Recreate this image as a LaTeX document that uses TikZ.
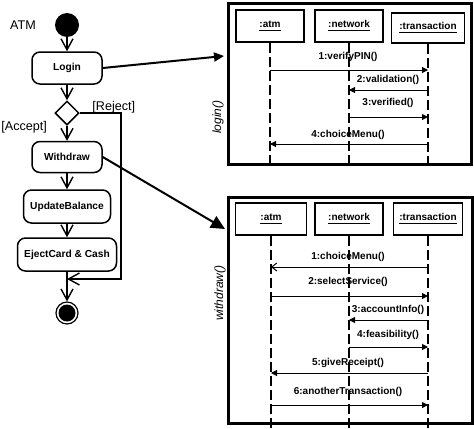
\documentclass[tikz,border=0pt]{standalone}
\usepackage{fontspec}
\setmainfont{Liberation Sans}
\usetikzlibrary{arrows.meta,shapes.geometric}
\begin{document}
\begin{tikzpicture}[x=0.5pt,y=-0.5pt,
 act/.style={draw,line width=0.75pt,rounded corners=4pt,font=\fontsize{5.1}{6}\selectfont\bfseries,inner sep=0pt},
 flow/.style={line width=0.7pt,-{Straight Barb[length=5.5pt,width=6pt,line width=0.7pt]}},
 lbl/.style={font=\fontsize{6.3}{7.5}\selectfont,inner sep=0pt},
 frm/.style={draw,line width=1.5pt,inner sep=0pt},
 obj/.style={draw,line width=0.8pt,inner sep=0pt,font=\fontsize{5}{6}\selectfont\bfseries},
 life/.style={line width=0.8pt,dash pattern=on 5pt off 2pt},
 msg/.style={line width=0.5pt,-{Triangle[length=3pt,width=3pt]}},
 msgopen/.style={line width=0.5pt,-{Straight Barb[length=2.5pt,width=4pt,line width=0.5pt]}},
 mlbl/.style={font=\fontsize{5}{6}\selectfont\bfseries,inner sep=0pt},
 call/.style={line width=1pt,-{Triangle[length=5pt,width=4.5pt]}},
 bigcall/.style={line width=1pt,-{Triangle[length=7pt,width=6.5pt]}},
 rot/.style={rotate=90,font=\fontsize{6}{7}\selectfont\itshape,inner sep=0pt}
]
\useasboundingbox (0,0) rectangle (474,428);

% ---------- activity diagram ----------
\node[lbl] (atmlbl) at (23,25) {ATM};
\node[circle,fill=black,inner sep=0pt,minimum size=12pt] (start) at (67,25) {};
\node[act,minimum width=35pt,minimum height=16pt] (login) at (67,68) {Login};
\node[diamond,draw,line width=0.75pt,inner sep=0pt,minimum width=12pt,minimum height=12pt] (dia) at (67,113) {};
\node[lbl,anchor=west] (rej) at (92,107) {[Reject]};
\node[lbl,anchor=west] (acc) at (1,127) {[Accept]};
\node[act,minimum width=35pt,minimum height=15.5pt] (withdraw) at (67,157) {Withdraw};
\node[act,minimum width=43.5pt,minimum height=16.5pt] (update) at (67,206.5) {UpdateBalance};
\node[act,minimum width=49.5pt,minimum height=16.5pt] (eject) at (67,254.5) {EjectCard \& Cash};
\coordinate (merge) at (67,279);
\coordinate (rejA) at (121,113);
\coordinate (rejB) at (121,279);
\node[circle,draw,line width=0.6pt,inner sep=0pt,minimum size=11pt] (end) at (67,313) {};
\node[circle,fill=black,inner sep=0pt,minimum size=8.5pt] (endin) at (67,313) {};

\draw[flow] (start) -- (login);
\draw[flow] (login) -- (dia);
\draw[flow] (dia) -- (withdraw);
\draw[flow] (withdraw) -- (update);
\draw[flow] (update) -- (eject);
\draw[flow] (eject) -- (end);
\draw[flow] (dia.east) -- (rejA) -- (rejB) -- (merge);

% ---------- frame 1: login() ----------
\node[frm,minimum width=121.5pt,minimum height=80.5pt] (f1) at (349.5,83.5) {};
\node[rot] (f1lbl) at (218,117) {login()};
\coordinate (f1in) at (224,56);
\draw[call] (login.east) -- (f1in);

\node[obj,minimum width=34pt,minimum height=16pt] (a1) at (270,26) {\underline{:atm}};
\node[obj,minimum width=34pt,minimum height=16pt] (n1) at (349,26) {\underline{:network}};
\node[obj,minimum width=36.5pt,minimum height=15pt] (t1) at (428,28) {\underline{:transaction}};
\coordinate (a1e) at (270,168);
\coordinate (n1e) at (349,168);
\coordinate (t1e) at (428,168);
\draw[life] (a1.south) -- (a1e);
\draw[life] (n1.south) -- (n1e);
\draw[life] (t1.south) -- (t1e);

\node[mlbl] (m11) at (348,57) {1:verifyPIN()};
\draw[msg] (a1 |- 0,70) -- (t1 |- 0,70);
\node[mlbl] (m12) at (388,80) {2:validation()};
\draw[msg] (t1 |- 0,90) -- (n1 |- 0,90);
\node[mlbl] (m13) at (388,103) {3:verified()};
\draw[msg] (n1 |- 0,117) -- (t1 |- 0,117);
\node[mlbl] (m14) at (348,135) {4:choiceMenu()};
\draw[msg] (t1 |- 0,144) -- (a1 |- 0,144);

% ---------- frame 2: withdraw() ----------
\node[frm,minimum width=122pt,minimum height=113pt] (f2) at (350,310) {};
\node[rot] (f2lbl) at (220,293) {withdraw()};
\coordinate (f2in) at (225,229);
\draw[bigcall] (withdraw.east) -- (f2in);

\node[obj,minimum width=35.5pt,minimum height=16pt] (a2) at (271,219) {\underline{:atm}};
\node[obj,minimum width=34pt,minimum height=16pt] (n2) at (349,219) {\underline{:network}};
\node[obj,minimum width=34.5pt,minimum height=16pt] (t2) at (428,219) {\underline{:transaction}};
\coordinate (a2e) at (271,428);
\coordinate (n2e) at (349,428);
\coordinate (t2e) at (428,428);
\draw[life] (a2.south) -- (a2e);
\draw[life] (n2.south) -- (n2e);
\draw[life] (t2.south) -- (t2e);

\node[mlbl] (m21) at (348,257) {1:choiceMenu()};
\draw[msgopen] (t2 |- 0,267) -- (a2 |- 0,267);
\node[mlbl] (m22) at (348,282) {2:selectService()};
\draw[msg] (a2 |- 0,296) -- (t2 |- 0,296);
\node[mlbl] (m23) at (388,310) {3:accountInfo()};
\draw[msg] (t2 |- 0,320) -- (n2 |- 0,320);
\node[mlbl] (m24) at (388,335) {4:feasibility()};
\draw[msg] (n2 |- 0,347) -- (t2 |- 0,347);
\node[mlbl] (m25) at (348,363) {5:giveReceipt()};
\draw[msg] (t2 |- 0,373) -- (a2 |- 0,373);
\node[mlbl] (m26) at (348,392) {6:anotherTransaction()};
\draw[msg] (a2 |- 0,405) -- (t2 |- 0,405);
\end{tikzpicture}
\end{document}
